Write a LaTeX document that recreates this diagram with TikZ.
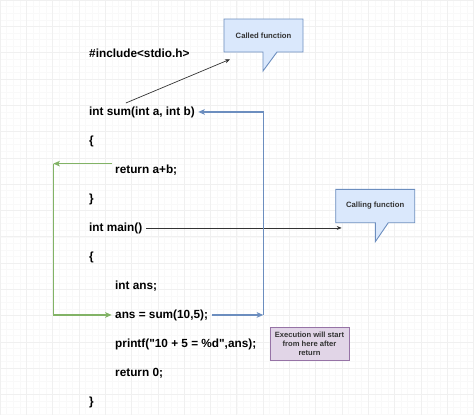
\documentclass[tikz,border=0pt]{standalone}
\usepackage{fontspec}
\setmainfont{Liberation Sans}
\usetikzlibrary{arrows.meta}
\definecolor{callfill}{HTML}{DAE8FC}
\definecolor{callline}{HTML}{6C8EBF}
\definecolor{retline}{HTML}{82B366}
\definecolor{notefill}{HTML}{E1D5E7}
\definecolor{noteline}{HTML}{9673A6}

\begin{document}
\begin{tikzpicture}[x=1pt,y=-1pt,
  code/.style={anchor=base west,inner sep=3.3pt,font=\fontsize{11.8}{14}\selectfont\bfseries},
  tip/.style={font=\fontsize{7.7}{9}\selectfont\bfseries,text=black!80},
  flow/.style={line width=1.2pt,-{Stealth[length=6.5pt,width=5.5pt,inset=1.5pt]}},
  pointer/.style={black!80,line width=0.7pt,-{Stealth[length=5pt,width=4pt]}},
  callbox/.style={fill=callfill,draw=callline,line width=0.9pt}]

\useasboundingbox (0,0) rectangle (474,415);

\draw [black!2.5,line width=0.4pt,step=6.575pt] (0,0) grid (474,415);
\draw [black!6,line width=0.5pt,step=26.3pt] (0,0) grid (474,415);

\node [code] (incl) at (85.7,57) {\#include<stdio.h>};
\node [code] (sumhead) at (85.7,115) {int sum(int a, int b)};
\node [code] (open1) at (85.7,144) {\{};
\node [code] (ret) at (111.7,173) {return a+b;};
\node [code] (close1) at (85.7,202) {\}};
\node [code] (mainhead) at (85.7,231) {int main()};
\node [code] (open2) at (85.7,260) {\{};
\node [code] (decl) at (111.7,289) {int ans;};
\node [code] (call) at (111.7,318) {ans = sum(10,5);};
\node [code] (prt) at (111.7,347) {printf(\textquotedbl10 + 5 = \%d\textquotedbl,ans);};
\node [code] (ret0) at (111.7,376) {return 0;};
\node [code] (close2) at (85.7,405) {\}};

\draw [callbox] (224,19) -- (303,19) -- (303,52) -- (277,52) -- (263,71) -- (263,52) -- (224,52) -- cycle;
\node [tip] (calledtxt) at (263.5,35.5) {Called function};

\draw [callbox] (335.7,189.3) -- (414.7,189.3) -- (414.7,222.7) -- (388.3,222.7) -- (375.3,241.7) -- (375.3,222.7) -- (335.7,222.7) -- cycle;
\node [tip] (callingtxt) at (375.2,206) {Calling function};

\node [draw=noteline,fill=notefill,line width=0.7pt,minimum width=79pt,minimum height=33pt,inner sep=1pt,align=center,font=\fontsize{7.6}{9}\selectfont\bfseries,text=black!80] (note) at (309.5,343.7) {Execution will start\\from here after\\return};

\coordinate (calledpt) at (230,59.3);
\coordinate (callingpt) at (341.7,229);
\coordinate (bluecorner) at (263.3,313.7);
\coordinate (greencorner) at (53.3,163.3);
\coordinate (retout) at ([yshift=6pt]ret.west);

\draw [pointer] ([xshift=-16pt]sumhead.north) -- (calledpt);
\draw [pointer] (mainhead.east) -- (mainhead.east -| callingpt);

\draw [flow,callline] (call.east) -- (call.east -| bluecorner);
\draw [flow,callline] (call.east -| bluecorner) |- (sumhead.east);

\draw [flow,retline] (retout) -- (retout -| greencorner);
\draw [flow,retline] (retout -| greencorner) |- (call.west);

\end{tikzpicture}
\end{document}
